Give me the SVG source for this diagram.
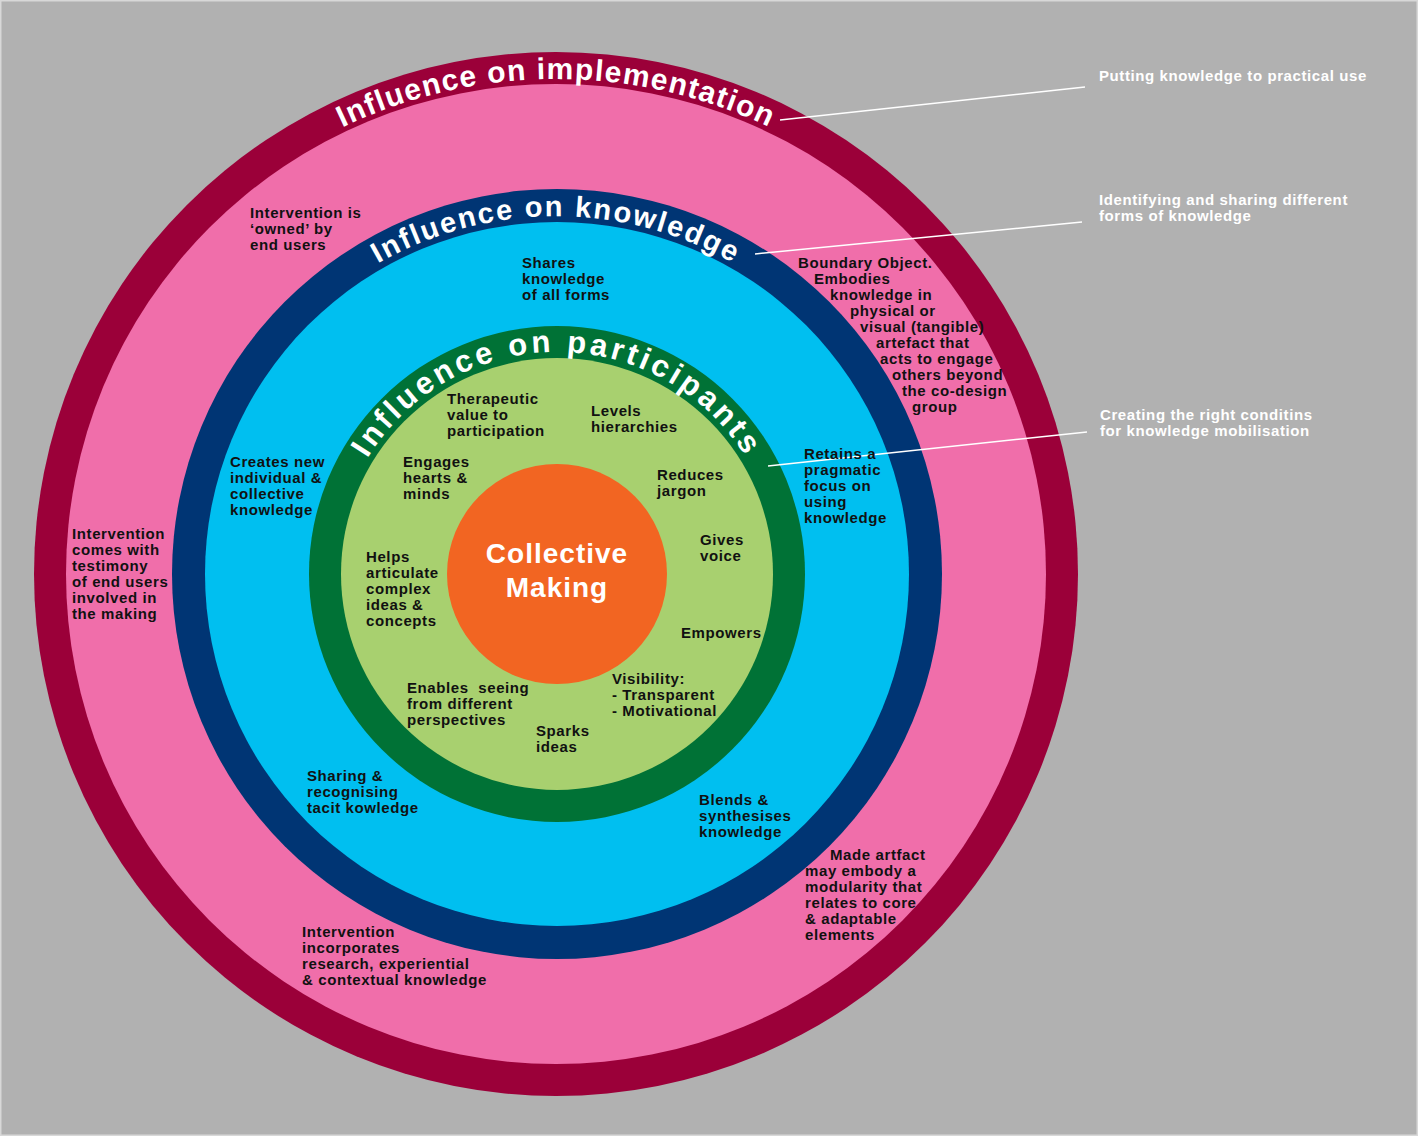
<svg xmlns="http://www.w3.org/2000/svg" width="1418" height="1136" viewBox="0 0 1418 1136">
<style>
.t{font-family:"Liberation Sans",Arial,sans-serif;font-weight:bold;font-size:15px;letter-spacing:0.6px;fill:#111}
.w{font-family:"Liberation Sans",Arial,sans-serif;font-weight:bold;font-size:15px;letter-spacing:0.6px;fill:#fff}
.arc{font-family:"Liberation Sans",Arial,sans-serif;font-weight:bold;fill:#fff;letter-spacing:2px}
.ln{stroke:#fff;stroke-width:1.5;fill:none}
</style>
<defs>
<path id="a1" d="M61,574 A495,495 0 0 1 1051,574"/>
<path id="a2" d="M198,574 A358,358 0 0 1 914,574"/>
<path id="a3" d="M335,574 A222,222 0 0 1 779,574"/>
</defs>
<rect x="0" y="0" width="1418" height="1136" fill="#b1b1b1" stroke="#d8d8d8" stroke-width="3"/>
<g id="ring-implementation"><circle cx="556" cy="574" r="522" fill="#9b0039"/><circle cx="556" cy="574" r="490" fill="#f06eaa"/>
<text class="arc" font-size="30" style="letter-spacing:1.3px"><textPath href="#a1" startOffset="50%" text-anchor="middle">Influence on implementation</textPath></text></g>
<g id="ring-knowledge"><circle cx="557" cy="574" r="385" fill="#003574"/><circle cx="557" cy="574" r="352" fill="#00bff0"/>
<text class="arc" font-size="29"><textPath href="#a2" startOffset="50%" text-anchor="middle">Influence on knowledge</textPath></text></g>
<g id="ring-participants"><circle cx="557" cy="574" r="248" fill="#007236"/><circle cx="557" cy="574" r="216" fill="#a8d06f"/>
<text class="arc" font-size="31" style="letter-spacing:3.5px"><textPath href="#a3" startOffset="50%" text-anchor="middle">Influence on participants</textPath></text></g>
<g id="core"><circle cx="557" cy="574" r="110" fill="#f26522"/>
<text x="557" y="563" text-anchor="middle" class="arc" font-size="28" style="letter-spacing:1px">Collective</text>
<text x="557" y="597" text-anchor="middle" class="arc" font-size="28" style="letter-spacing:1px">Making</text></g>
<g id="connectors">
<line class="ln" x1="780" y1="120" x2="1085" y2="87"/>
<line class="ln" x1="755" y1="254" x2="1082" y2="222"/>
<line class="ln" x1="768" y1="466" x2="1087" y2="432"/>
</g>
<g id="labels">
<text class="t" x="250" y="218">Intervention is</text><text class="t" x="250" y="234">‘owned’ by</text><text class="t" x="250" y="250">end users</text>
<text class="t" x="522" y="268">Shares</text><text class="t" x="522" y="284">knowledge</text><text class="t" x="522" y="300">of all forms</text>
<text class="t" x="798" y="268">Boundary Object.</text><text class="t" x="814" y="284">Embodies</text><text class="t" x="830" y="300">knowledge in</text><text class="t" x="850" y="316">physical or</text><text class="t" x="860" y="332">visual (tangible)</text><text class="t" x="876" y="348">artefact that</text><text class="t" x="880" y="364">acts to engage</text><text class="t" x="892" y="380">others beyond</text><text class="t" x="902" y="396">the co-design</text><text class="t" x="912" y="412">group</text>
<text class="t" x="447" y="404">Therapeutic</text><text class="t" x="447" y="420">value to</text><text class="t" x="447" y="436">participation</text>
<text class="t" x="591" y="416">Levels</text><text class="t" x="591" y="432">hierarchies</text>
<text class="t" x="230" y="467">Creates new</text><text class="t" x="230" y="483">individual &amp;</text><text class="t" x="230" y="499">collective</text><text class="t" x="230" y="515">knowledge</text>
<text class="t" x="403" y="467">Engages</text><text class="t" x="403" y="483">hearts &amp;</text><text class="t" x="403" y="499">minds</text>
<text class="t" x="657" y="480">Reduces</text><text class="t" x="657" y="496">jargon</text>
<text class="t" x="804" y="459">Retains a</text><text class="t" x="804" y="475">pragmatic</text><text class="t" x="804" y="491">focus on</text><text class="t" x="804" y="507">using</text><text class="t" x="804" y="523">knowledge</text>
<text class="t" x="72" y="539">Intervention</text><text class="t" x="72" y="555">comes with</text><text class="t" x="72" y="571">testimony</text><text class="t" x="72" y="587">of end users</text><text class="t" x="72" y="603">involved in</text><text class="t" x="72" y="619">the making</text>
<text class="t" x="700" y="545">Gives</text><text class="t" x="700" y="561">voice</text>
<text class="t" x="366" y="562">Helps</text><text class="t" x="366" y="578">articulate</text><text class="t" x="366" y="594">complex</text><text class="t" x="366" y="610">ideas &amp;</text><text class="t" x="366" y="626">concepts</text>
<text class="t" x="681" y="638">Empowers</text>
<text class="t" x="612" y="684">Visibility:</text><text class="t" x="612" y="700">- Transparent</text><text class="t" x="612" y="716">- Motivational</text>
<text class="t" x="407" y="693" xml:space="preserve">Enables  seeing</text><text class="t" x="407" y="709">from different</text><text class="t" x="407" y="725">perspectives</text>
<text class="t" x="536" y="736">Sparks</text><text class="t" x="536" y="752">ideas</text>
<text class="t" x="307" y="781">Sharing &amp;</text><text class="t" x="307" y="797">recognising</text><text class="t" x="307" y="813">tacit kowledge</text>
<text class="t" x="699" y="805">Blends &amp;</text><text class="t" x="699" y="821">synthesises</text><text class="t" x="699" y="837">knowledge</text>
<text class="t" x="830" y="860">Made artfact</text><text class="t" x="805" y="876">may embody a</text><text class="t" x="805" y="892">modularity that</text><text class="t" x="805" y="908">relates to core</text><text class="t" x="805" y="924">&amp; adaptable</text><text class="t" x="805" y="940">elements</text>
<text class="t" x="302" y="937">Intervention</text><text class="t" x="302" y="953">incorporates</text><text class="t" x="302" y="969">research, experiential</text><text class="t" x="302" y="985">&amp; contextual knowledge</text>
<text class="w" x="1099" y="81">Putting knowledge to practical use</text>
<text class="w" x="1099" y="205">Identifying and sharing different</text><text class="w" x="1099" y="221">forms of knowledge</text>
<text class="w" x="1100" y="420">Creating the right conditins</text><text class="w" x="1100" y="436">for knowledge mobilisation</text>
</g>
</svg>
